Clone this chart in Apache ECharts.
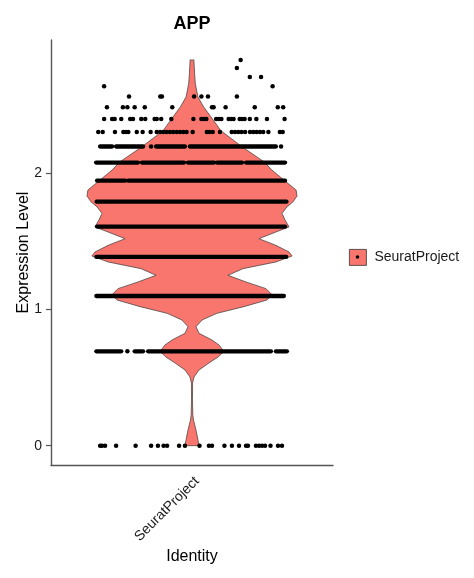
<!DOCTYPE html>
<html><head><meta charset="utf-8">
<script src="https://cdn.jsdelivr.net/npm/echarts@6/dist/echarts.min.js"></script>
<style>html,body{margin:0;padding:0;background:#fff}#c{width:474px;height:578px}</style>
</head><body><div id="c"></div>
<script>
// ---- data ----
const categories = ['SeuratProject'];
const yTicks = [0, 1, 2];
const seriesName = 'SeuratProject';

// violin outline: expression level and half width (in % of category slot)
const violinLevel = [0, 0.064, 0.115, 0.189, 0.225, 0.336, 0.460, 0.504, 0.556, 0.607, 0.651, 0.692, 0.739, 0.776, 0.825, 0.874, 0.923, 0.972, 1.021, 1.070, 1.109, 1.153, 1.202, 1.251, 1.300, 1.349, 1.393, 1.422, 1.471, 1.520, 1.569, 1.606, 1.657, 1.706, 1.753, 1.791, 1.833, 1.877, 1.951, 2.024, 2.085, 2.195, 2.313, 2.404, 2.489, 2.562, 2.661, 2.736, 2.833];
const violinHalfWidth = [3.0, 2.3, 1.7, 0.65, 0.35, 0.2, 0.25, 0.85, 3.0, 7.2, 11.1, 13.6, 11.5, 8.5, 3.0, 1.7, 4.3, 10.6, 22.1, 31.9, 34.0, 31.5, 23.0, 15.3, 21.7, 35.7, 42.6, 41.3, 35.7, 28.5, 35.7, 41.3, 39.6, 38.3, 40.4, 43.0, 44.7, 44.3, 39.1, 34.0, 30.6, 21.3, 12.3, 8.5, 4.9, 2.5, 1.4, 1.1, 0.8];

// discrete expression levels of the cells
const levels = [0, 0.693, 1.099, 1.386, 1.609, 1.792, 1.946, 2.079, 2.197, 2.303, 2.398, 2.485, 2.565, 2.639, 2.708, 2.773, 2.833];

// isolated jittered cells per level (jitter in % of category slot)
const sparseJitter = [
  [-39.1, -38.3, -37.0, -32.3, -24.0, -17.4, -14.5, -12.1, -10.6, -5.5, -3.0, 3.2, 7.2, 8.5, 13.8, 17.0, 20.0, 23.0, 23.8, 27.2, 28.5, 29.8, 31.1, 33.4, 36.6, 38.3],
  [-27.5],
  [], [], [], [], [], [],
  [-17.4, 37.9],
  [-39.9, -38.0, -32.8, -29.2, -28.1, -27.1, -23.5, -21.0, -17.6, -15.0, -13.6, -12.2, -10.8, -9.4, -8.0, -6.5, -5.1, -3.7, -2.3, 0.3, 6.3, 7.4, 8.8, 11.9, 16.9, 18.3, 19.7, 21.1, 22.6, 24.7, 26.1, 27.5, 28.9, 30.3, 32.5, 37.4, 38.6],
  [-37.4, -34.0, -32.9, -30.1, -26.3, -25.1, -21.6, -19.9, -15.9, -15.0, -13.1, -8.8, 0.6, 4.0, 5.1, 6.1, 10.3, 11.5, 12.5, 15.6, 16.7, 17.7, 20.3, 21.3, 22.4, 24.6, 27.4, 31.9, 39.4],
  [-36.2, -29.4, -27.5, -24.4, -20.1, -8.4, 8.5, 9.2, 14.3, 26.7, 36.5, 38.8],
  [-26.8, -13.5, -12.8, 0.9, 4.0, 6.8, 19.1],
  [-37.4, 34.3],
  [24.6, 29.4],
  [19.1],
  [20.7]
];

// densely packed cells per level, as jitter ranges [from, to]
const denseRuns = [
  [],
  [[-40.7, -30.1], [-24.4, -20.8], [-18.7, 33.6], [35.7, 40.4]],
  [[-40.7, 39.1]],
  [[-40.7, 40.1]],
  [[-40.4, 39.6]],
  [[-40.6, 40.2]],
  [[-40.4, -28.5], [-27.2, 39.6]],
  [[-40.8, -23.0], [-21.3, -3.4], [-1.7, 9.4], [10.6, 21.3], [23.0, 39.6]],
  [[-39.1, -34.0], [-32.3, -20.8], [-15.3, -3.0], [-0.9, 35.7]],
  [], [], [], [], [], [], [], []
];

// ---- build ----
const FONT = '"Liberation Sans", Arial, Helvetica, sans-serif';
const violinData = violinLevel.map((v, i) => [violinHalfWidth[i], v]);
const pointData = [];
levels.forEach((lv, i) => sparseJitter[i].forEach(j => pointData.push([j, lv])));
const runData = [];
levels.forEach((lv, i) => denseRuns[i].forEach(r => runData.push([r[0], r[1], lv])));

const chart = echarts.init(document.getElementById('c'), null, {renderer: 'canvas'});
chart.setOption({
  animation: false,
  title: {
    text: 'APP', left: 192, top: 15, textAlign: 'center', padding: 0,
    textStyle: {fontFamily: FONT, fontSize: 18, fontWeight: 'bold', color: '#000'}
  },
  grid: {left: 51, right: 141, top: 40, bottom: 113},
  legend: {
    left: 349, top: 249, itemWidth: 17, itemHeight: 16, padding: 0,
    data: [{name: seriesName, icon: 'rect', itemStyle: {color: '#F8766D', borderColor: '#333', borderWidth: 0.8}}],
    textStyle: {fontFamily: FONT, fontSize: 14, color: '#1a1a1a', padding: [0, 0, 0, 3]}
  },
  graphic: [{type: 'circle', shape: {cx: 357.5, cy: 257, r: 1.8}, style: {fill: '#000'}, z: 100}],
  xAxis: [
    {
      type: 'category', data: categories,
      axisLine: {onZero: false, lineStyle: {color: '#555', width: 1.4}},
      axisTick: {alignWithLabel: true, length: 5, lineStyle: {color: '#555', width: 1.2}},
      axisLabel: {rotate: 45, margin: 9, verticalAlign: 'top', fontFamily: FONT, fontSize: 14, color: '#1a1a1a'},
      name: 'Identity', nameLocation: 'middle', nameGap: 84, nameMoveOverlap: false,
      nameTextStyle: {fontFamily: FONT, fontSize: 16, color: '#000'}
    },
    {type: 'value', min: -60, max: 60, show: false}
  ],
  yAxis: {
    type: 'value', min: -0.142, max: 2.979,
    axisLine: {show: true, onZero: false, lineStyle: {color: '#555', width: 1.4}},
    axisTick: {show: true, length: 5, customValues: yTicks, lineStyle: {color: '#555', width: 1.2}},
    axisLabel: {customValues: yTicks, margin: 9, fontFamily: FONT, fontSize: 14, color: '#1a1a1a'},
    splitLine: {show: false},
    name: 'Expression Level', nameLocation: 'middle', nameGap: 19, nameMoveOverlap: false,
    nameTextStyle: {fontFamily: FONT, fontSize: 16, color: '#000'}
  },
  series: [
    {
      name: seriesName, type: 'custom', xAxisIndex: 1, yAxisIndex: 0,
      itemStyle: {color: '#F8766D'},
      data: violinData, encode: {x: 0, y: 1},
      renderItem: function (params, api) {
        if (params.dataIndex !== 0) return null;
        const right = violinData.map(d => api.coord([d[0], d[1]]));
        const left = violinData.map(d => api.coord([-d[0], d[1]])).reverse();
        return {
          type: 'polygon', shape: {points: right.concat(left)},
          style: {fill: '#F8766D', stroke: '#3a3a3a', lineWidth: 0.7}
        };
      }
    },
    {
      name: 'cells-dense', type: 'custom', xAxisIndex: 1, yAxisIndex: 0,
      data: runData, encode: {x: [0, 1], y: 2},
      renderItem: function (params, api) {
        const a = api.coord([api.value(0), api.value(2)]);
        const b = api.coord([api.value(1), api.value(2)]);
        return {
          type: 'line', shape: {x1: a[0], y1: a[1], x2: b[0], y2: b[1]},
          style: {stroke: '#000', lineWidth: 4.3, lineCap: 'round'}
        };
      }
    },
    {
      name: 'cells', type: 'scatter', xAxisIndex: 1, yAxisIndex: 0,
      data: pointData, symbol: 'circle', symbolSize: 4.5,
      itemStyle: {color: '#000', opacity: 1}
    }
  ]
});
</script>
</body></html>
